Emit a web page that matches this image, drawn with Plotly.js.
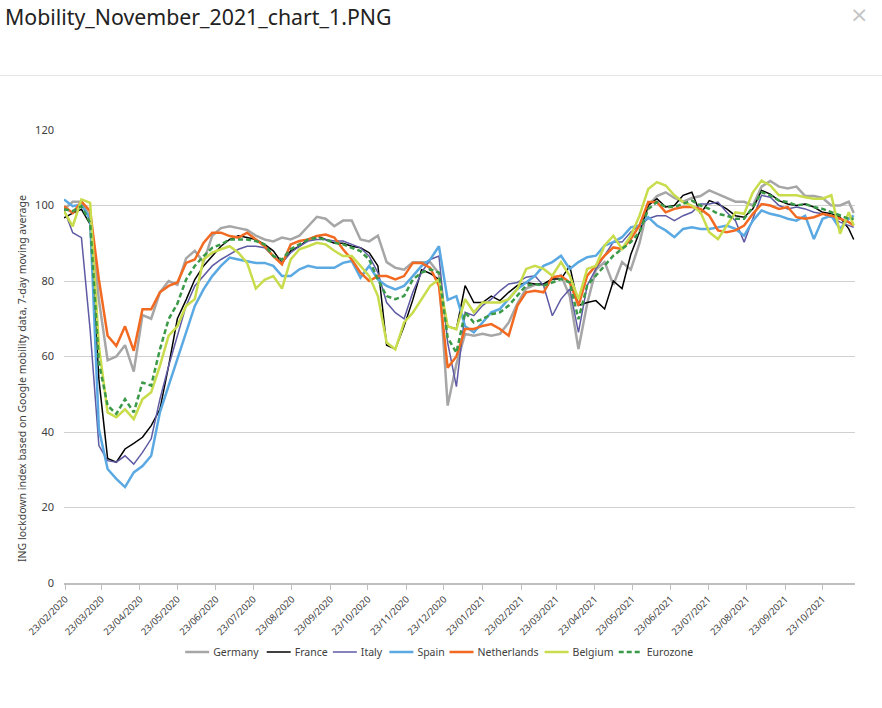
<!DOCTYPE html>
<html>
<head>
<meta charset="utf-8">
<script src="https://cdn.plot.ly/plotly-3.0.1.min.js"></script>
<style>
  body { margin:0; background:#fff; width:882px; height:708px; overflow:hidden; font-family:"Noto Sans", "Open Sans", sans-serif; }
  #chart { position:absolute; left:0; top:0; width:882px; height:708px; }
  #hdr { position:absolute; left:5px; top:2px; font-size:21.3px; color:#222; font-family:"Noto Sans", sans-serif; white-space:nowrap; }
  #close { position:absolute; left:850px; top:2px; font-size:22px; color:#c4c4c4; font-family:"DejaVu Sans", sans-serif; }
  #sep { position:absolute; left:0; top:75px; width:882px; height:1px; background:#e6e6e6; }
</style>
</head>
<body>
<div id="chart"></div>
<div id="hdr">Mobility_November_2021_chart_1.PNG</div>
<div id="close">×</div>
<div id="sep"></div>
<script>
// weekly observation dates (from 22/02/2020), last point mid-November 2021
const startDate = "2020-02-22";
const nWeekly = 91;
const lastDate = "2021-11-17";

const seriesNames = ["Germany", "France", "Italy", "Spain", "Netherlands", "Belgium", "Eurozone"];

const germany = [99,101,101,97,75,59,60,63,56,71,
 70,77,80,79,86,88,85,92,94,94.5,
 94,93.5,92,91,90.5,91.5,91,92,94.5,97,
 96.5,94.5,96,96,91,90.5,92,85,83.5,83,
 85,85,85,82,47,58,66,65.5,66,65.5,
 66,69,74,78,79,79,80.5,81.5,76,62,
 74,83,85,79,85,83,90,100,102.5,103.5,
 102,101,102,102.5,104,103,102,101,101,100,
 105,106.5,105,104.5,105,102.5,102.5,102,100,100,
 101,98];

const france = [96.7,98,99,95,54,33,32,35.5,37,38.6,
 41.7,46,57.5,70,75,80.4,84,86.6,89.2,91,
 92,91.5,91,89.7,88,84.8,88,89.2,91,92,
 91,90,90,89.2,88.8,87.5,84,63,62,68,
 75,83,82,80.4,68,67.3,78.8,74.3,74.3,76,
 74.8,77,78.8,79.6,79.2,79.2,80.5,80.5,84,73.5,
 74.3,74.8,72.6,80,78,87,93,100,101.8,99.6,
 100,102.7,103.5,97.8,101.3,100.4,99.1,97.3,96.9,99.1,
 104,103,101.3,100.4,100,100.4,99.6,98.2,97.8,96.9,
 93.8,91];

const italy = [99,92.8,91.5,67,36.4,32.4,32,33.7,31.5,34.6,
 38.2,48.7,57.5,65.5,73.4,78.7,81.3,84,85.7,87,
 88.4,89.2,89.2,88.8,86.6,84.8,87.5,89.2,90.6,91,
 91,90.6,90.6,89.7,88.8,86.6,82.2,74.3,71.6,70,
 77,82.2,85.7,86.6,63.7,52,71.7,70.8,73.5,75.2,
 77.4,79.2,79.6,81,81.4,78.8,70.8,75.2,77.9,66.4,
 78.8,83.2,86.7,90.3,90.3,93,94.7,96.5,97.3,97.3,
 96,97.3,98.2,100.4,100.4,100.9,98.2,96,90.3,96.5,
 102.7,102.2,100,99.1,99.6,99.1,98.2,97.8,96.9,95.6,
 94.7,94.2];

const spain = [101.6,99.8,100.3,96.3,40.8,30.2,27.6,25.4,29.3,31,
 33.7,45.2,52.3,59.3,66.3,73.4,77.8,81.3,84,86.2,
 85.7,85.3,84.8,84.8,84,81.3,81.3,83.1,84,83.5,
 83.5,83.5,84.8,85.3,80.9,84,80.4,78.7,77.8,78.7,
 81.3,84,85.7,89.2,75,76,68,66.4,69,71.7,
 72.6,75.2,77.9,79.6,81.4,84,85,86.7,83.2,85,
 86.3,86.7,89.4,90.3,91.6,94.2,94.7,96.9,94.7,93.4,
 91.6,93.8,94.2,93.8,93.8,94.2,94.7,93.8,92,96,
 98.7,97.8,97.3,96.5,96,97.3,91.1,96.5,97.3,93.8,
 96.5,97.3];

const netherlands = [99.8,98,101,98.5,80.4,65.5,62.8,68,61.5,72.5,
 72.5,77,78.7,79.6,84.8,85.7,90.1,92.8,92.8,91.9,
 91.5,92.8,91,89.2,86.6,84.4,89.7,90.6,91,91.9,
 92.3,91.5,88.4,85.7,82.2,80,81.3,81.3,80.4,81.3,
 84.8,84.8,83.5,78.7,57,60,67.3,67.3,68.1,68.6,
 67.3,65.5,73.5,77,77.4,77,81,81.4,79.6,73.5,
 81.4,84,86.7,88.9,88.5,91.1,94.7,100.9,100.9,98.2,
 99.1,99.6,99.6,99.1,97.3,93.4,92.9,93.4,94.7,97.8,
 100.4,100,99.1,99.6,96.9,96.5,96.9,97.8,97.3,96.5,
 95.6,94.7];

const belgium = [98.5,94.5,101.6,100.7,62.8,45.2,43.9,46,43.4,48.7,
 50.5,57.5,65.5,68,73.4,75.2,85.7,87.5,88.4,89.2,
 87.5,84.8,78,80.3,81.3,78,85.7,88.4,89.2,90.1,
 89.7,88,86.6,86.6,84,81.3,76,63.7,61.9,69,
 71.6,75.2,78.7,80.4,68,67.2,75.2,71.7,74.3,74.3,
 74.3,75.2,77.9,83.2,84,83.2,81.4,85,81.4,75.2,
 83.2,84,89.4,92,88.5,92,97.3,104.4,106.2,105.3,
 102.7,100.9,100,98.2,92.9,91.1,94.7,98.2,97.8,103.5,
 106.6,105.3,102.7,102.7,102.7,102.2,101.8,101.8,102.7,92.5,
 98.2,94.7];

const eurozone = [99,98.5,99.8,95.4,58.4,47,44.8,48.7,45.2,53.1,
 52.3,61.9,69.9,74,80.4,84,86.6,88.8,89.7,91,
 91,91,90.6,89.7,86.6,85.7,88.4,89.7,91,91.5,
 91,90.1,89.7,88.8,87.9,85.7,80.4,76,75.2,76,
 80.4,82.2,83.1,82.2,65,61,71.7,69,69.9,71.2,
 71.7,73.5,76.1,78.8,79.2,78.8,79.6,80.5,79.6,69.9,
 78.8,81.4,84,86.7,88.5,90.3,92.9,99.1,100.9,99.6,
 99.6,100.4,101.3,100,99.1,97.8,97.3,96.5,96.5,99.6,
 103.5,102.7,101.3,100.9,100,100.4,99.6,99.1,98.2,97.3,
 96.5,96.5];

const yTickVals = [0, 20, 40, 60, 80, 100, 120];
const xTickStart = "2020-02-23";
const yTitle = "ING lockdown index based on Google mobility data, 7-day moving average";

// build date axis
const dates = [];
{
  const d0 = new Date(startDate + "T00:00:00Z");
  for (let i = 0; i < nWeekly; i++) {
    const d = new Date(d0.getTime() + i * 7 * 86400000);
    dates.push(d.toISOString().slice(0, 10));
  }
  dates.push(lastDate);
}

const values = [germany, france, italy, spain, netherlands, belgium, eurozone];
const colors = ["#a6a6a6", "#000000", "#5e5aa3", "#5aa9e2", "#f26a21", "#c9dc4b", "#3a9a48"];
const widths = [2.5, 1.5, 1.5, 2.5, 2.5, 2.5, 2.5];
const dashes = ["solid", "solid", "solid", "solid", "solid", "solid", "5px,3px"];
// each legend entry gets its own legend box so spacing can follow the original
const legendIds = ["legend", "legend2", "legend3", "legend4", "legend5", "legend6", "legend7"];
const legendX = [0.1380, 0.2411, 0.3247, 0.3962, 0.4722, 0.5924, 0.6861];

const traces = seriesNames.map((name, k) => ({
  type: "scatter",
  mode: "lines",
  name: name,
  x: dates,
  y: values[k],
  legend: legendIds[k],
  line: { color: colors[k], width: widths[k], dash: dashes[k] },
  hoverinfo: "x+y+name"
}));

const layout = {
  width: 882,
  height: 708,
  margin: { l: 64, r: 27, t: 130, b: 125 },
  paper_bgcolor: "rgba(0,0,0,0)",
  plot_bgcolor: "rgba(0,0,0,0)",
  font: { family: "Noto Sans, Open Sans, sans-serif", size: 11, color: "#404040" },
  showlegend: true,
  xaxis: {
    type: "date",
    range: ["2020-02-22", "2021-11-18"],
    tick0: xTickStart,
    dtick: "M1",
    tickformat: "%d/%m/%Y",
    tickangle: -45,
    tickfont: { size: 9.5, color: "#404040" },
    ticks: "outside",
    ticklen: 5,
    tickwidth: 1,
    tickcolor: "#bfbfbf",
    showline: true,
    linecolor: "#bfbfbf",
    linewidth: 2,
    showgrid: false,
    zeroline: false,
    fixedrange: true
  },
  yaxis: {
    range: [0, 120],
    tickvals: yTickVals,
    ticks: "",
    ticklabelstandoff: 9,
    tickfont: { size: 11, color: "#404040" },
    showgrid: true,
    gridcolor: "#d0d0d0",
    gridwidth: 1,
    zeroline: false,
    showline: false,
    fixedrange: true
  },
  annotations: [{
    xref: "paper", yref: "paper",
    x: -0.0532, y: 0.4525,
    xanchor: "center", yanchor: "middle",
    textangle: -90,
    showarrow: false,
    text: yTitle,
    font: { size: 10.5, color: "#404040" }
  }]
};

legendIds.forEach((id, k) => {
  layout[id] = {
    orientation: "h",
    x: legendX[k], xanchor: "left",
    y: -0.1523, yanchor: "middle",
    font: { size: 10.5, color: "#404040" },
    itemwidth: 30,
    bgcolor: "rgba(0,0,0,0)",
    borderwidth: 0
  };
});

Plotly.newPlot("chart", traces, layout, { displayModeBar: false, staticPlot: true }).then(gd => {
  // shorter legend line samples, as in the original
  gd.querySelectorAll(".legendlines path").forEach(p => p.setAttribute("d", "M12,0h24"));
});
</script>
</body>
</html>
